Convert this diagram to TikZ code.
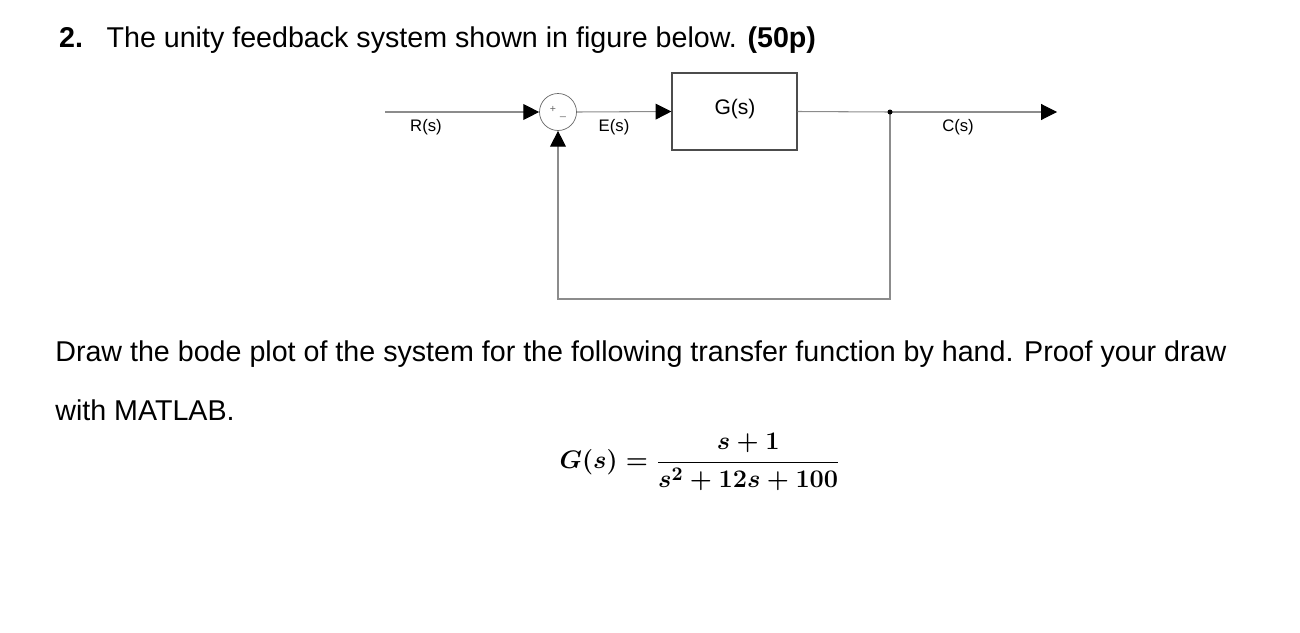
\documentclass[tikz,border=0pt]{standalone}
\usepackage{amsmath}
\usepackage{fontspec}
\setmainfont{Liberation Sans}
\usetikzlibrary{arrows.meta,positioning}
\tikzset{
  wire/.style={draw=black!45, line width=0.6pt},
  tip/.style={-{Triangle[length=9pt,width=9pt,black]}},
  lbl/.style={font=\fontsize{9.5}{11}\selectfont}
}
\newcommand{\plantTF}{\mbox{\boldmath$G(s)=\dfrac{s+1}{s^{2}+12s+100}$}}
\begin{document}
\begin{tikzpicture}[x=0.02cm,y=-0.02cm]
    \useasboundingbox (0,0) rectangle (1300,632);
    % question text
    \node[anchor=base west, font=\fontsize{16.3}{19}\selectfont] (title) at (53,47)
      {\textbf{2.}\hspace{0.45em} The unity feedback system shown in figure below. \textbf{(50p)}};
    % block diagram
    \coordinate (in) at (385,112);
    \node[circle, draw=black!60, minimum size=0.74cm, inner sep=0pt] (sum) at (558,112) {};
    \node[font=\fontsize{6}{6}\selectfont, text=black!60] (plus) at (553,109) {+};
    \node[font=\fontsize{6}{6}\selectfont, text=black!60] (minus) at (563,117) {\_};
    \node[draw=black!70, line width=0.7pt, minimum width=2.5cm, minimum height=1.54cm] (plant) at (734.5,111.5) {};
    \node[font=\fontsize{12}{14}\selectfont] (gs) at (735,109) {G(s)};
    \coordinate (branch) at (890,112);
    \coordinate (out) at (1057,112);
    \coordinate (low) at (890,299);
    \draw[wire, tip] (in) -- (sum.west);
    \draw[wire, tip] (sum.east) -- (plant.west);
    \draw[wire] (plant.east) -- (branch);
    \draw[wire, tip] (branch) -- (out);
    \draw[wire, tip] (branch) -- (low) -| (sum.south);
    \fill (branch) circle (2.5);
    \node[lbl] (r) at (426,127) {R(s)};
    \node[lbl] (e) at (614,127) {E(s)};
    \node[lbl] (c) at (958,127) {C(s)};
    % task text
    \node[anchor=north west, align=left, inner sep=0pt, font=\fontsize{16.3}{34}\selectfont] (task) at (55,340)
      {Draw the bode plot of the system for the following transfer function by hand. Proof your draw\\with MATLAB.};
    % transfer function
    \node[font=\fontsize{15}{18}\selectfont] (tf) at (700,462) {\plantTF};
\end{tikzpicture}
\end{document}
